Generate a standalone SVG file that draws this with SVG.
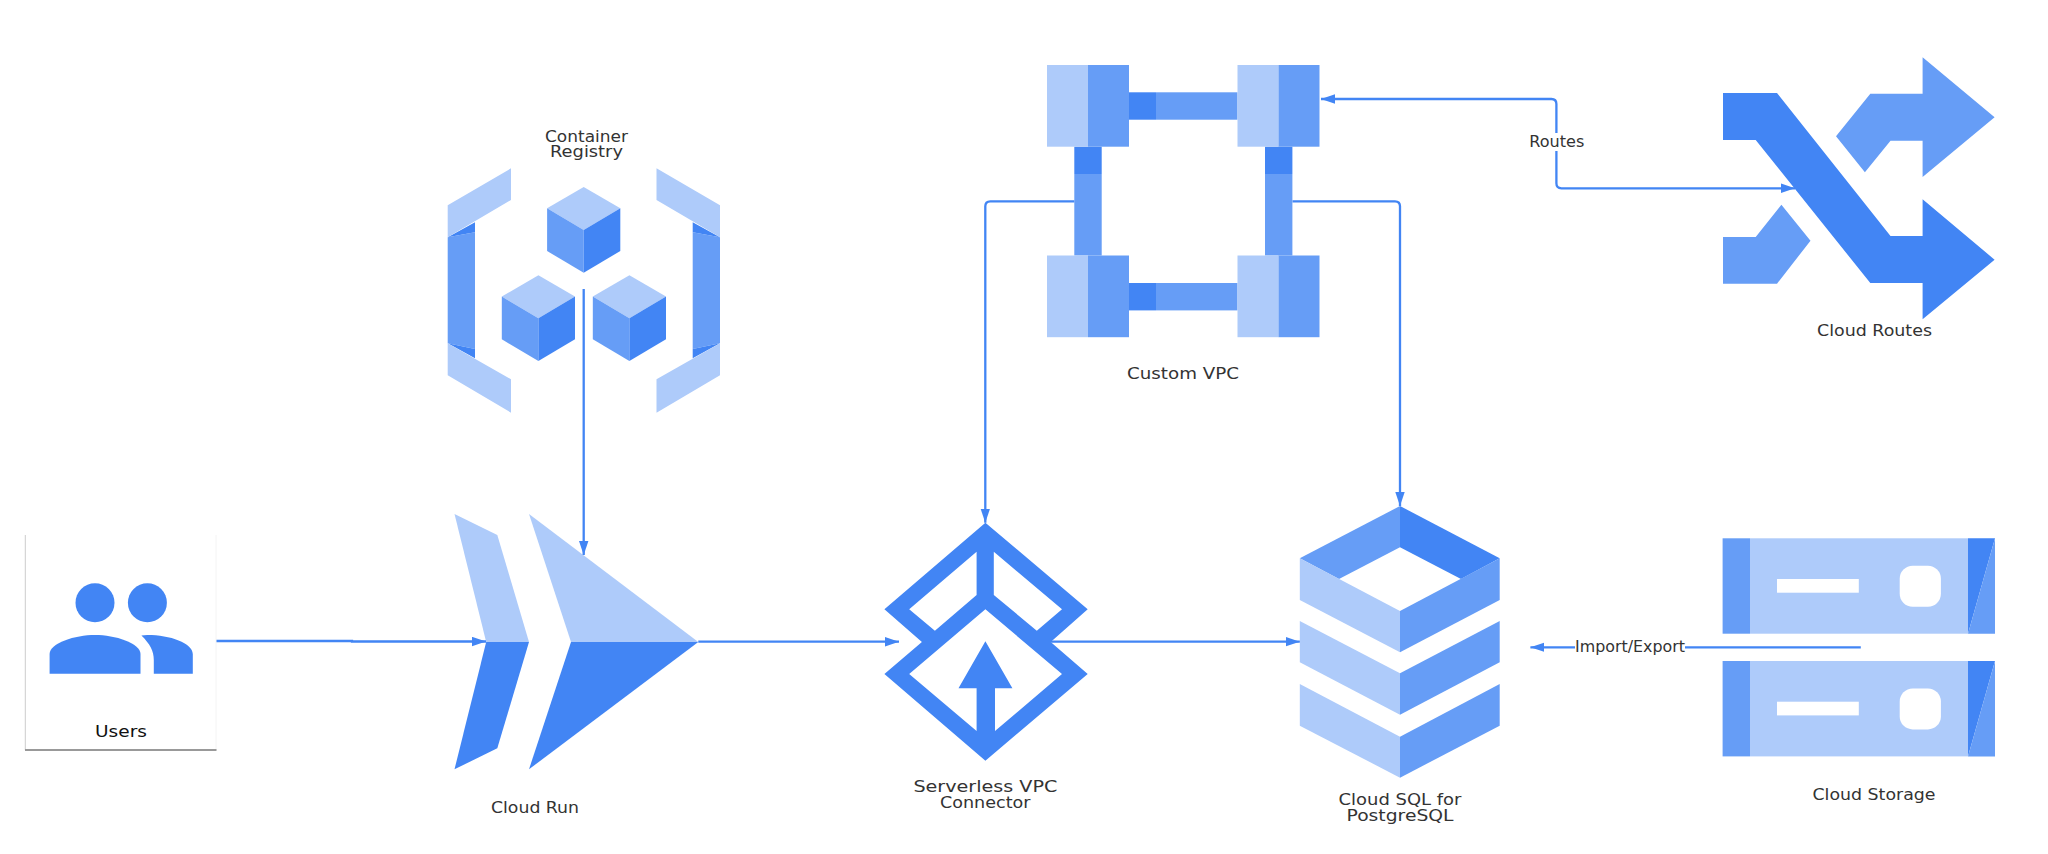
<svg xmlns="http://www.w3.org/2000/svg" width="2048" height="854" viewBox="0 0 2048 854">
<style>
.l{fill:#AECBFA}.m{fill:#669DF6}.d{fill:#4285F4}
.c{fill:none;stroke:#4285F4;stroke-width:2.3;marker-end:url(#arrow)}
.n{fill:none;stroke:#4285F4;stroke-width:2.3}
text{font-family:"DejaVu Sans","Liberation Sans",sans-serif;font-size:15px;fill:#333}
</style>
<defs>
<marker id="arrow" markerUnits="userSpaceOnUse" markerWidth="16" markerHeight="12" refX="14" refY="5" orient="auto"><path d="M0 .3L14 5L0 9.7Z" fill="#4285F4"/></marker>
<g id="vpcBlock"><rect class="l" width="41" height="81.7"/><rect class="m" x="41" width="41" height="81.7"/></g>
<g id="cube"><path class="l" d="M0 0L36.6 21.3L0 43L-36.6 21.3Z"/><path class="m" d="M-36.6 21.3L0 43V85.7L-36.6 64Z"/><path class="d" d="M36.6 21.3L0 43V85.7L36.6 64Z"/></g>
<g id="disk"><rect class="m" x="1722.6" width="27.4" height="95.4"/><rect class="l" x="1750" width="218" height="95.4"/><path class="d" d="M1968 0H1995L1968 95.4Z"/><path class="m" d="M1995 0V95.4H1968Z"/><rect fill="#fff" x="1777" y="40.7" width="81.8" height="13.7"/><rect fill="#fff" x="1899.7" y="27.4" width="41.2" height="41" rx="13"/></g>
</defs>
<rect width="2048" height="854" fill="#fff"/>
<g id="users">
<path d="M216 535V750" stroke="#f4f4f4" stroke-width="1" fill="none"/>
<path d="M25.3 535V750" stroke="#ccc" stroke-width="1" fill="none"/>
<path d="M25 750H216.5" stroke="#999" stroke-width="2" fill="none"/>
<circle class="d" cx="95" cy="602.7" r="19.5"/><circle class="d" cx="147.4" cy="602.7" r="19.5"/>
<path class="d" d="M49.6 673.7V654C49.6 643 75 635 95 635S140.5 643 140.5 654V673.7Z"/>
<path class="d" d="M141.4 635.5C150 644 153.8 651 153.8 660V673.7H192.8V654C192.8 643 170 635 147.4 635Q144 635 141.4 635.5Z"/>
<text x="95" y="737" textLength="52" lengthAdjust="spacingAndGlyphs" style="fill:#111">Users</text>
</g>
<g id="cloud-run">
<path class="l" d="M454.5 514L497.3 535L529 642H486.2Z"/><path class="d" d="M454.5 769.3L497.3 748.3L529 642H486.2Z"/>
<path class="l" d="M529 514L698.3 642H571Z"/><path class="d" d="M529 769.3L698.3 642H571Z"/>
<text x="491" y="812.7" textLength="88" lengthAdjust="spacingAndGlyphs">Cloud Run</text>
</g>
<g id="container-registry">
<text x="545" y="142" textLength="83" lengthAdjust="spacingAndGlyphs">Container</text>
<text x="550" y="157.3" textLength="73" lengthAdjust="spacingAndGlyphs">Registry</text>
<g id="reg-left">
<path class="m" d="M447.7 237.3L475 232.3V349L447.7 343.3Z"/><path class="d" d="M475 222.3V232.3L447.7 237.3ZM447.7 343.3L475 349V358.3Z"/>
<path class="l" d="M511 168.3V200L447.7 237.3V205.3ZM447.7 343.3L511 379.3V412.7L447.7 375.3Z"/>
</g>
<g id="reg-right">
<path class="m" d="M720 237.3L692.7 232.3V349L720 343.3Z"/><path class="d" d="M692.7 222.3V232.3L720 237.3ZM720 343.3L692.7 349V358.3Z"/>
<path class="l" d="M656.5 168.3V200L720 237.3V205.3ZM720 343.3L656.5 379.3V412.7L720 375.3Z"/>
</g>
<use href="#cube" x="583.7" y="187"/><use href="#cube" x="538.4" y="275.3"/><use href="#cube" x="629.4" y="275.3"/>
</g>
<g id="serverless-vpc-connector">
<path class="d" fill-rule="evenodd" d="M985.4 522.7L1087.7 609.3L1050.7 642L1087.7 674L985.4 760.7L884.4 674L921.9 642L884.4 609.3Z
M976.6 551.7V595L934.9 630.7L909.2 609.3Z
M993.8 551.7L1062 609.3L1036.8 630.7L993.8 595Z
M985.4 609.3L1062 674L995 731V688.3H1012.4L985.4 641.3L958.5 688.3H976.6V731L909.2 674Z"/>
<text x="913.4" y="792.3" textLength="144" lengthAdjust="spacingAndGlyphs">Serverless VPC</text>
<text x="940" y="807.7" textLength="90.5" lengthAdjust="spacingAndGlyphs">Connector</text>
</g>
<g id="cloud-sql">
<path class="m" d="M1400 506V547.3L1339 579L1299.8 558.3Z"/><path class="d" d="M1400 506L1499.7 558.3L1461 579L1400 547.3Z"/>
<path class="l" d="M1299.8 558.3L1400 611V652.3L1299.8 600Z"/><path class="m" d="M1499.7 558.3L1400 611V652.3L1499.7 600Z"/>
<path class="l" d="M1299.8 621L1400 673.3V714.7L1299.8 662.3Z"/><path class="m" d="M1499.7 621L1400 673.3V714.7L1499.7 662.3Z"/>
<path class="l" d="M1299.8 684L1400 736.7V777.7L1299.8 725.7Z"/><path class="m" d="M1499.7 684L1400 736.7V777.7L1499.7 725.7Z"/>
<text x="1338.5" y="805" textLength="123" lengthAdjust="spacingAndGlyphs">Cloud SQL for</text>
<text x="1346.5" y="820.7" textLength="107" lengthAdjust="spacingAndGlyphs">PostgreSQL</text>
</g>
<g id="custom-vpc">
<rect class="m" x="1156" y="92.3" width="81.5" height="27.4"/><rect class="d" x="1129" y="92.3" width="27" height="27.4"/>
<rect class="m" x="1156" y="283" width="81.5" height="27.4"/><rect class="d" x="1129" y="283" width="27" height="27.4"/>
<rect class="m" x="1074.3" y="174" width="27.4" height="81.5"/><rect class="d" x="1074.3" y="146.7" width="27.4" height="27.3"/>
<rect class="m" x="1265" y="174" width="27.4" height="81.5"/><rect class="d" x="1265" y="146.7" width="27.4" height="27.3"/>
<use href="#vpcBlock" x="1047" y="65"/><use href="#vpcBlock" x="1237.5" y="65"/>
<use href="#vpcBlock" x="1047" y="255.5"/><use href="#vpcBlock" x="1237.5" y="255.5"/>
<text x="1127" y="379.3" textLength="112" lengthAdjust="spacingAndGlyphs">Custom VPC</text>
</g>
<g id="cloud-routes">
<path class="d" d="M1723 93H1777L1890.5 236H1922.6V199.3L1994.6 259.7L1922.6 319.3V283H1870.3L1755.7 140H1723Z"/>
<path class="m" d="M1922.6 57.3L1994.6 117.3L1922.6 177V140.7H1890.5L1864.9 172.3L1836 136.3L1870.3 93.7H1922.6Z"/>
<path class="m" d="M1723 237H1755.7L1781.4 204.7L1810.5 240.7L1777 283.7H1723Z"/>
<text x="1817" y="336" textLength="115" lengthAdjust="spacingAndGlyphs">Cloud Routes</text>
</g>
<g id="cloud-storage">
<use href="#disk" y="538.3"/><use href="#disk" y="661"/>
<text x="1812.5" y="800" textLength="123" lengthAdjust="spacingAndGlyphs">Cloud Storage</text>
</g>
<g id="connectors">
<path class="c" d="M216.5 641H352V641.5H486"/>
<path class="c" d="M698.3 641.7H899"/>
<path class="c" d="M583.7 289V555"/>
<path class="c" d="M1074.3 201.3H990.3Q985.3 201.3 985.3 206.3V522.7"/>
<path class="c" d="M1292.5 201.3H1395Q1400 201.3 1400 206.3V506"/>
<path class="c" d="M1050.7 641.7H1299.8"/>
<path class="c" d="M1556.4 110V104Q1556.4 99 1551.4 99H1321"/>
<path class="c" d="M1556.4 110V183.3Q1556.4 188.3 1561.4 188.3H1795"/>
<rect x="1529" y="133" width="55" height="18" fill="#fff"/>
<text x="1529.3" y="146.7" textLength="55" lengthAdjust="spacingAndGlyphs">Routes</text>
<path class="c" d="M1860.8 647.3H1530.4"/>
<rect x="1575" y="638" width="110" height="18" fill="#fff"/>
<text x="1575" y="651.5" textLength="110" lengthAdjust="spacingAndGlyphs">Import/Export</text>
</g>
</svg>
